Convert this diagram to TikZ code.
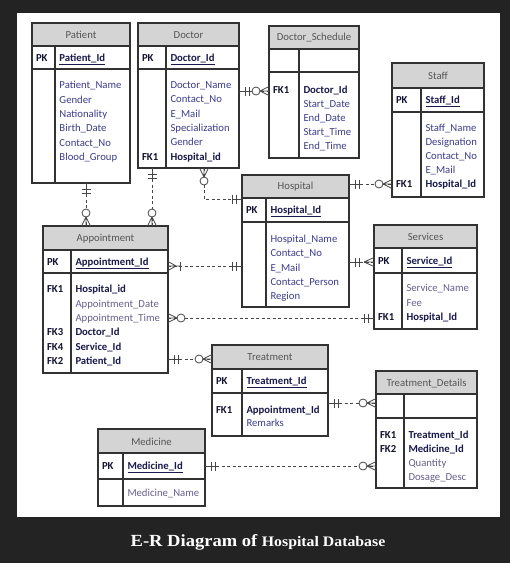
\documentclass[tikz,border=0pt]{standalone}
\usepackage{fontspec}
\setmainfont{Carlito}
\newfontfamily\capfont{Liberation Serif}
\usetikzlibrary{fit}

\definecolor{bgdark}{RGB}{35,35,35}
\definecolor{hdrfill}{RGB}{212,212,212}
\definecolor{tborder}{RGB}{50,50,50}
\definecolor{hdrtext}{RGB}{85,85,85}
\definecolor{attrc}{RGB}{60,60,140}
\definecolor{attrl}{RGB}{105,95,140}
\definecolor{keyc}{RGB}{25,25,75}
\definecolor{tagc}{RGB}{20,20,50}
\definecolor{connc}{RGB}{70,70,70}

\newcommand{\kb}[1]{{\bfseries\color{keyc}#1}}
\newcommand{\al}[1]{{\color{attrl}#1}}
\newcommand{\tfont}{\fontsize{10.7}{12}\selectfont}

\tikzset{
 every node/.style={inner sep=0pt, outer sep=0pt},
 tbox/.style={draw=tborder, line width=1.2pt, inner sep=0pt},
 tline/.style={draw=tborder, line width=1.2pt},
 hdr/.style={font=\tfont, text=hdrtext},
 attr/.style={font=\tfont, text=attrc, anchor=base west},
 tagtext/.style={font=\tfont\bfseries, text=tagc, anchor=base west},
 keytext/.style={font=\tfont\bfseries, text=keyc, anchor=base west},
 mk/.style={draw=connc, line width=0.8pt, solid},
 conn/.style={draw=connc, line width=0.8pt, dash pattern=on 3pt off 2.5pt},
 pics/zeromany/.style={code={
   \draw[mk] (-9,0) -- (0,4.5) (-9,0) -- (0,-4.5) (-9,0) -- (0,0);
   \draw[mk, fill=white] (-13,0) circle[radius=4pt];}},
 pics/onlyone/.style={code={
   \draw[mk] (-10,0) -- (0,0);
   \draw[mk] (-6,-4.5) -- (-6,4.5) (-10,-4.5) -- (-10,4.5);}},
 pics/onemany/.style={code={
   \draw[mk] (-8,0) -- (0,4.5) (-8,0) -- (0,-4.5) (-12,0) -- (0,0);
   \draw[mk] (-12,-4.5) -- (-12,4.5);}},
 pics/crowonly/.style={code={
   \draw[mk] (-10,0) -- (0,4.5) (-10,0) -- (0,-4.5) (-10,0) -- (0,0);}},
}

% #1 name #2 title #3 x1 #4 y1 #5 x2 #6 y2 #7 header bottom #8 key bottom #9 divider
\newcommand{\ertable}[9]{%
  \fill[hdrfill] (#3,#4) rectangle (#5,#7);
  \coordinate (#1-nw) at (#3,#4);
  \coordinate (#1-se) at (#5,#6);
  \node[tbox, fit=(#1-nw)(#1-se)] (#1) {};
  \draw[tline] (#3,#7) -- (#5,#7) (#3,#8) -- (#5,#8) (#9,#7) -- (#9,#6);
  \node[hdr] (#1-title) at ({(#3+#5)/2},{(#4+#7)/2+0.5}) {#2};
}
% #1 name #2 x1 #3 divider #4 y-centre #5 tag #6 text
\newcommand{\keyrow}[6]{%
  \node[tagtext] (#1-pk) at ({#2+4},{#4+3.6}) {#5};
  \node[keytext] (#1-key) at ({#3+4.5},{#4+3.6}) {\underline{#6}};
}
% #1 name #2 x1 #3 divider #4 y0 #5 dy #6 list tag/text
\newcommand{\bodyrows}[6]{%
  \foreach \tg/\tx [count=\i from 0] in {#6} {
    \node[tagtext] (#1-t\i) at ({#2+4},{#4+\i*#5+3.6}) {\tg};
    \node[attr] (#1-a\i) at ({#3+4.5},{#4+\i*#5+3.6}) {\tx};
  }
}

\begin{document}
\begin{tikzpicture}[x=1pt,y=-1pt]
\useasboundingbox (0,0) rectangle (510,563);
\fill[bgdark] (0,0) rectangle (510,563);
\fill[white] (17,13) rectangle (500,517);

% Patient
\ertable{patient}{Patient}{32}{23}{130}{183}{46}{69}{55}
\keyrow{patient}{32}{55}{57.5}{PK}{Patient\_Id}
\bodyrows{patient}{32}{55}{85}{14.4}{/Patient\_Name,/Gender,/Nationality,/Birth\_Date,/Contact\_No,/Blood\_Group}

% Doctor
\ertable{doctor}{Doctor}{138}{23}{239}{168}{46}{69}{166}
\keyrow{doctor}{138}{166}{57.5}{PK}{Doctor\_Id}
\bodyrows{doctor}{138}{166}{85}{14.3}{/Doctor\_Name,/Contact\_No,/E\_Mail,/Specialization,/Gender,FK1/\kb{Hospital\_id}}

% Doctor_Schedule
\ertable{dsched}{Doctor\_Schedule}{269}{26}{359}{158}{49}{72}{299}
\bodyrows{dsched}{269}{299}{90}{13.9}{FK1/\kb{Doctor\_Id},/Start\_Date,/End\_Date,/Start\_Time,/End\_Time}

% Staff
\ertable{staff}{Staff}{392}{63}{484}{197}{88}{112}{421}
\keyrow{staff}{392}{421}{100}{PK}{Staff\_Id}
\bodyrows{staff}{392}{421}{128}{14}{/Staff\_Name,/Designation,/Contact\_No,/E\_Mail,FK1/\kb{Hospital\_Id}}

% Hospital
\ertable{hospital}{Hospital}{242}{175}{349}{307}{198}{222}{266}
\keyrow{hospital}{242}{266}{210}{PK}{Hospital\_Id}
\bodyrows{hospital}{242}{266}{239}{14.2}{/Hospital\_Name,/Contact\_No,/E\_Mail,/Contact\_Person,/Region}

% Services
\ertable{services}{Services}{374}{225}{477}{329}{248}{273}{402}
\keyrow{services}{374}{402}{260.5}{PK}{Service\_Id}
\bodyrows{services}{374}{402}{288.3}{14.5}{/\al{Service\_Name},/\al{Fee},FK1/\kb{Hospital\_Id}}

% Appointment
\ertable{appt}{Appointment}{43}{226}{168}{373}{250}{273}{71}
\keyrow{appt}{43}{71}{261.5}{PK}{Appointment\_Id}
\bodyrows{appt}{43}{71}{289.3}{14.35}{FK1/\kb{Hospital\_id},/\al{Appointment\_Date},/\al{Appointment\_Time},FK3/\kb{Doctor\_Id},FK4/\kb{Service\_Id},FK2/\kb{Patient\_Id}}

% Treatment
\ertable{treat}{Treatment}{212}{345}{328}{436}{369}{393}{242}
\keyrow{treat}{212}{242}{381}{PK}{Treatment\_Id}
\bodyrows{treat}{212}{242}{410}{12.7}{FK1/\kb{Appointment\_Id},/Remarks}

% Medicine
\ertable{medicine}{Medicine}{98}{429}{205}{506}{453}{479}{123}
\keyrow{medicine}{98}{123}{466}{PK}{Medicine\_Id}
\bodyrows{medicine}{98}{123}{493}{14}{/\al{Medicine\_Name}}

% Treatment_Details
\ertable{tdet}{Treatment\_Details}{376}{371}{477}{488}{394}{418}{404}
\bodyrows{tdet}{376}{404}{435}{14}{FK1/\kb{Treatment\_Id},FK2/\kb{Medicine\_Id},/\al{Quantity},/\al{Dosage\_Desc}}

% Connectors
% Doctor - Doctor_Schedule
\draw[conn] (doctor.east |- 0,91) -- (dsched.west |- 0,91);
\pic[rotate=180] at (doctor.east |- 0,91) {onlyone};
\pic at (dsched.west |- 0,91) {zeromany};
% Patient - Appointment
\draw[conn] (patient.south -| 86,0) -- (appt.north -| 86,0);
\pic[rotate=90] at (patient.south -| 86,0) {onlyone};
\pic[rotate=-90] at (appt.north -| 86,0) {zeromany};
% Doctor - Appointment
\draw[conn] (doctor.south -| 152,0) -- (appt.north -| 152,0);
\pic[rotate=90] at (doctor.south -| 152,0) {onlyone};
\pic[rotate=-90] at (appt.north -| 152,0) {zeromany};
% Doctor - Hospital
\draw[conn] (doctor.south -| 204,0) |- (hospital.west |- 0,199);
\pic[rotate=90] at (doctor.south -| 204,0) {zeromany};
\pic at (hospital.west |- 0,199) {onlyone};
% Hospital - Staff
\draw[conn] (hospital.east |- 0,184) -- (staff.west |- 0,184);
\pic[rotate=180] at (hospital.east |- 0,184) {onlyone};
\pic at (staff.west |- 0,184) {zeromany};
% Appointment - Hospital
\draw[conn] (appt.east |- 0,266) -- (hospital.west |- 0,266);
\pic[rotate=180] at (appt.east |- 0,266) {onemany};
\pic at (hospital.west |- 0,266) {onlyone};
% Hospital - Services
\draw[conn] (hospital.east |- 0,262) -- (services.west |- 0,262);
\pic[rotate=180] at (hospital.east |- 0,262) {onlyone};
\pic at (services.west |- 0,262) {crowonly};
% Appointment - Services
\draw[conn] (appt.east |- 0,318) -- (services.west |- 0,318);
\pic[rotate=180] at (appt.east |- 0,318) {zeromany};
\pic at (services.west |- 0,318) {onlyone};
% Appointment - Treatment
\draw[conn] (appt.east |- 0,359) -- (treat.west |- 0,359);
\pic[rotate=180] at (appt.east |- 0,359) {onlyone};
\pic at (treat.west |- 0,359) {zeromany};
% Treatment - Treatment_Details
\draw[conn] (treat.east |- 0,403) -- (tdet.west |- 0,403);
\pic[rotate=180] at (treat.east |- 0,403) {onlyone};
\pic at (tdet.west |- 0,403) {zeromany};
% Medicine - Treatment_Details
\draw[conn] (medicine.east |- 0,466) -- (tdet.west |- 0,466);
\pic[rotate=180] at (medicine.east |- 0,466) {onlyone};
\pic at (tdet.west |- 0,466) {zeromany};

% Caption
\node[anchor=base, text=white, font=\capfont\bfseries] (caption) at (258,546)
  {\scalebox{1.09}[1]{\fontsize{17}{17}\selectfont E-R Diagram of \fontsize{14.5}{14.5}\selectfont Hospital Database}};
\end{tikzpicture}
\end{document}
